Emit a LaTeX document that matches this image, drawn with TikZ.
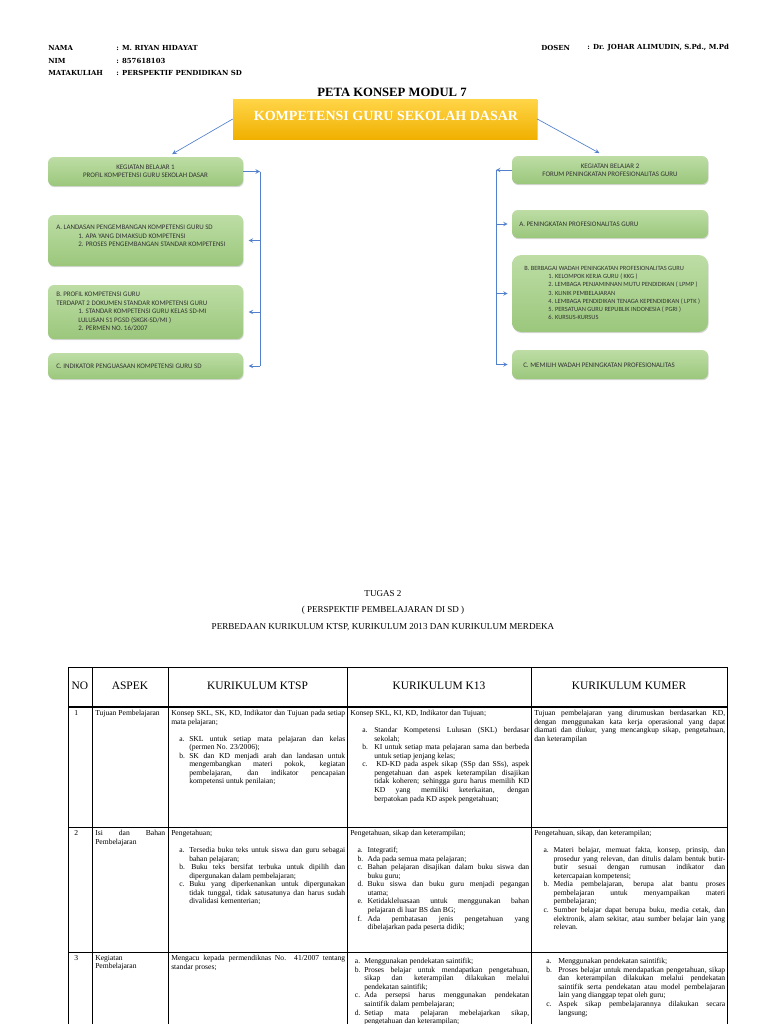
\documentclass[tikz,border=0pt]{standalone}
\usepackage{fontspec}
\setmainfont{Liberation Serif}
\newfontfamily\kotakfont{Carlito}
\newfontfamily\identfont{DejaVu Serif}
\usetikzlibrary{positioning,shadows}
\definecolor{hijauatas}{RGB}{189,221,165}
\definecolor{hijaubawah}{RGB}{155,199,124}
\definecolor{oranyeatas}{RGB}{255,213,72}
\definecolor{oranyebawah}{RGB}{240,176,0}
\definecolor{garisbiru}{RGB}{82,128,205}
\definecolor{teksabu}{RGB}{50,50,50}
\newlength\lslabel
\newlength\lstext
\newcommand\lsset[2]{\setlength\lslabel{#1}\setlength\lstext{#2}}
\newcommand\litem[2]{\par\hangindent=\lstext\hangafter=1\noindent\makebox[\lstext][l]{\hspace*{\lslabel}#1}#2\par}
\newcommand\lsgap{\par\vspace{6.5pt}}
\begin{document}
\begin{tikzpicture}[x=0.75pt,y=-0.75pt,line join=round,>=stealth]
	\tikzset{
		ident/.style={font=\identfont\bfseries\fontsize{5.2}{6}\selectfont,anchor=west,inner sep=0pt},
		kotak/.style={rounded corners=4.5pt,top color=hijauatas,bottom color=hijaubawah,minimum width=146.25pt,drop shadow={shadow xshift=0.5pt,shadow yshift=-0.9pt,opacity=0.3}},
		isi/.style={font=\kotakfont\fontsize{5.2}{6.4}\selectfont,text=teksabu,inner sep=0pt,anchor=north west,align=left},
		konektor/.style={draw=garisbiru,line width=0.5pt},
		garis/.style={line width=0.6pt},
		sel/.style={font={\fontsize{5.7}{6.4}\selectfont\parindent=0pt\tolerance=10000\hbadness=10000\hyphenpenalty=10000},inner sep=0pt,anchor=north west,align=justify},
		kepala/.style={font=\fontsize{8.6}{10}\selectfont,inner sep=0pt},
		judul/.style={font=\fontsize{6.8}{8}\selectfont,inner sep=0pt}
	}
	\useasboundingbox (0,0) rectangle (768,1024);
	\fill[white] (0,0) rectangle (768,1024);
	% identitas
	\node[ident] (nama) at (48,48) {NAMA};
	\node[ident] (namaisi) at (116,48) {: M. RIYAN HIDAYAT};
	\node[ident] (nim) at (48,61) {NIM};
	\node[ident] (nimisi) at (116,61) {: 857618103};
	\node[ident] (mk) at (48,73) {MATAKULIAH};
	\node[ident] (mkisi) at (116,73) {: PERSPEKTIF PENDIDIKAN SD};
	\node[ident] (dosen) at (541,48) {DOSEN};
	\node[ident] (dosenisi) at (587,48) {: Dr. JOHAR ALIMUDIN, S.Pd., M.Pd};
	% peta konsep
	\node[font=\bfseries\fontsize{9.5}{11}\selectfont,inner sep=0pt] (peta) at (392,92) {PETA KONSEP MODUL 7};
	\node[top color=oranyeatas,bottom color=oranyebawah,minimum width=228pt,minimum height=30pt,drop shadow={shadow xshift=0.6pt,shadow yshift=-1pt,opacity=0.35}] (kompetensi) at (385,119) {};
	\node[font=\bfseries\fontsize{10.5}{12}\selectfont,text=white,inner sep=0pt] (kompetensiteks) at (386,116) {KOMPETENSI GURU SEKOLAH DASAR};
	% kegiatan belajar 1
	\node[kotak,minimum height=21.75pt,font=\kotakfont\fontsize{5.2}{6.2}\selectfont,text=teksabu,align=center] (kb1) at (145.5,171.5) {KEGIATAN BELAJAR 1\\PROFIL KOMPETENSI GURU SEKOLAH DASAR};
	\node[kotak,minimum height=38.25pt] (kbA) at (145.5,240.5) {};
	\node[kotak,minimum height=40.5pt] (kbB) at (145.5,312) {};
	\node[kotak,minimum height=19.5pt] (kbC) at (145.5,366) {};
	\node[isi] (tkbA) at (56,224.8) {A. LANDASAN PENGEMBANGAN KOMPETENSI GURU SD\\
		\hspace*{16.5pt}1. APA YANG DIMAKSUD KOMPETENSI\\
		\hspace*{16.5pt}2. PROSES PENGEMBANGAN STANDAR KOMPETENSI};
	\node[isi] (tkbB) at (56,291.8) {B. PROFIL KOMPETENSI GURU\\
		TERDAPAT 2 DOKUMEN STANDAR KOMPETENSI GURU\\
		\hspace*{16.5pt}1. STANDAR KOMPETENSI GURU KELAS SD-MI\\
		\hspace*{16.5pt}LULUSAN S1 PGSD (SKGK-SD/MI )\\
		\hspace*{16.5pt}2. PERMEN NO. 16/2007};
	\node[isi] (tkbC) at (56,363.8) {C. INDIKATOR PENGUASAAN KOMPETENSI GURU SD};
	% kegiatan belajar 2
	\node[kotak,minimum width=147pt,minimum height=21pt,font=\kotakfont\fontsize{5.2}{6.2}\selectfont,text=teksabu,align=center] (kr1) at (610,170) {KEGIATAN BELAJAR 2\\FORUM PENINGKATAN PROFESIONALITAS GURU};
	\node[kotak,minimum width=147pt,minimum height=21pt] (krA) at (610,224) {};
	\node[kotak,minimum width=147pt,minimum height=57.75pt,rounded corners=7pt] (krB) at (610,293.5) {};
	\node[kotak,minimum width=147pt,minimum height=21.75pt] (krC) at (610,364.5) {};
	\node[isi] (tkrA) at (519,221.8) {A. PENINGKATAN PROFESIONALITAS GURU};
	\node[isi,font=\kotakfont\fontsize{4.8}{6.15}\selectfont] (tkrB) at (524,266) {B. BERBAGAI WADAH PENINGKATAN PROFESIONALITAS GURU\\
		\hspace*{18pt}1. KELOMPOK KERJA GURU ( KKG )\\
		\hspace*{18pt}2. LEMBAGA PENJAMINNAN MUTU PENDIDIKAN ( LPMP )\\
		\hspace*{18pt}3. KLINIK PEMBELAJARAN\\
		\hspace*{18pt}4. LEMBAGA PENDIDIKAN TENAGA KEPENDIDIKAN ( LPTK )\\
		\hspace*{18pt}5. PERSATUAN GURU REPUBLIK INDONESIA ( PGRI )\\
		\hspace*{18pt}6. KURSUS-KURSUS};
	\node[isi] (tkrC) at (523,362.8) {C. MEMILIH WADAH PENINGKATAN PROFESIONALITAS};
	% konektor
	\draw[konektor,->] (kompetensi.west) -- ([xshift=20pt,yshift=2pt]kb1.north);
	\draw[konektor,->] (kompetensi.east) -- ([xshift=-8pt,yshift=2pt]kr1.north);
	\coordinate (lbus) at (260,171.5);
	\draw[konektor,->] (kb1.east) -- (lbus);
	\draw[konektor] (lbus) -- (lbus |- kbC.east);
	\foreach \k in {kbA,kbB,kbC}
		\draw[konektor,->] (lbus |- \k.east) -- ([xshift=4pt]\k.east);
	\coordinate (rbus) at (496,170);
	\draw[konektor,->] (kr1.west) -- (rbus);
	\draw[konektor] (rbus) -- (rbus |- krC.west);
	\foreach \k in {krA,krB,krC}
		\draw[konektor,->] (rbus |- \k.west) -- ([xshift=-3pt]\k.west);
	% tugas 2
	\node[judul] (tugas) at (383,594) {TUGAS 2};
	\node[judul] (perspektif) at (383,610) {( PERSPEKTIF PEMBELAJARAN DI SD )};
	\node[judul] (perbedaan) at (383,627) {PERBEDAAN KURIKULUM KTSP, KURIKULUM 2013 DAN KURIKULUM MERDEKA};
	\begin{scope}
		\clip (0,0) rectangle (768,1024);
		\foreach \x in {68,92,168,347,531,727}
			\draw[garis] (\x,667) -- (\x,1030);
		\draw[garis] (68,667) -- (727,667);
		\draw[garis,line width=1pt] (68,707) -- (727,707);
		\foreach \y in {827,952}
			\draw[garis] (68,\y) -- (727,\y);
		% kepala tabel
		\node[kepala] (hno) at (80,686) {NO};
		\node[kepala] (haspek) at (130,686) {ASPEK};
		\node[kepala] (hktsp) at (257.5,686) {KURIKULUM KTSP};
		\node[kepala] (hktiga) at (439,686) {KURIKULUM K13};
		\node[kepala] (hkumer) at (629,686) {KURIKULUM KUMER};
		% baris 1
		\node[sel] (no1) at (74,710) {1};
		\node[sel,text width=52.5pt] (as1) at (95,710) {Tujuan Pembelajaran};
		\node[sel,text width=130.5pt] (ktsp1) at (171,710) {Konsep SKL, SK, KD, Indikator dan Tujuan pada setiap \linebreak mata pelajaran;\lsgap
			\lsset{6pt}{13.5pt}%
			\litem{a.}{SKL untuk setiap mata pelajaran dan kelas \linebreak (permen No. 23/2006);}
			\litem{b.}{SK dan KD menjadi arah dan landasan untuk \linebreak mengembangkan materi pokok, kegiatan \linebreak pembelajaran, dan indikator pencapaian \linebreak kompetensi untuk penilaian;}};
		\node[sel,text width=134.25pt] (ktiga1) at (350,710) {Konsep SKL, KI, KD, Indikator dan Tujuan;\lsgap
			\lsset{9pt}{18pt}%
			\litem{a.}{Standar Kompetensi Lulusan (SKL) berdasar \linebreak sekolah;}
			\litem{b.}{KI untuk setiap mata pelajaran sama dan berbeda \linebreak untuk setiap jenjang kelas;}
			\litem{c.}{\hspace*{1.5pt}KD-KD pada aspek sikap (SSp dan SSs), aspek \linebreak pengetahuan dan aspek keterampilan disajikan \linebreak tidak koheren; sehingga guru harus memilih KD \linebreak KD yang memiliki keterkaitan, dengan \linebreak berpatokan pada KD aspek pengetahuan;}};
		\node[sel,text width=143.25pt] (kumer1) at (534,710) {Tujuan pembelajaran yang dirumuskan berdasarkan KD, \linebreak dengan menggunakan kata kerja operasional yang dapat \linebreak diamati dan diukur, yang mencangkup sikap, pengetahuan, \linebreak dan keterampilan};
		% baris 2
		\node[sel] (no2) at (74,830) {2};
		\node[sel,text width=52.5pt] (as2) at (95,830) {Isi dan Bahan \linebreak Pembelajaran};
		\node[sel,text width=130.5pt] (ktsp2) at (171,830) {Pengetahuan;\lsgap
			\lsset{6pt}{13.5pt}%
			\litem{a.}{Tersedia buku teks untuk siswa dan guru sebagai \linebreak bahan pelajaran;}
			\litem{b.}{\hspace*{1.5pt}Buku teks bersifat terbuka untuk dipilih dan \linebreak dipergunakan dalam pembelajaran;}
			\litem{c.}{Buku yang diperkenankan untuk dipergunakan \linebreak tidak tunggal, tidak satusatunya dan harus sudah \linebreak divalidasi kementerian;}};
		\node[sel,text width=134.25pt] (ktiga2) at (350,830) {Pengetahuan, sikap dan keterampilan;\lsgap
			\lsset{5.5pt}{13pt}%
			\litem{a.}{Integratif;}
			\litem{b.}{Ada pada semua mata pelajaran;}
			\litem{c.}{Bahan pelajaran disajikan dalam buku siswa dan \linebreak buku guru;}
			\litem{d.}{Buku siswa dan buku guru menjadi pegangan \linebreak utama;}
			\litem{e.}{Ketidakleluasaan untuk menggunakan bahan \linebreak pelajaran di luar BS dan BG;}
			\litem{f.}{Ada pembatasan jenis pengetahuan yang \linebreak dibelajarkan pada peserta didik;}};
		\node[sel,text width=143.25pt] (kumer2) at (534,830) {Pengetahuan, sikap, dan keterampilan;\lsgap
			\lsset{7pt}{14.5pt}%
			\litem{a.}{Materi belajar, memuat fakta, konsep, prinsip, dan \linebreak prosedur yang relevan, dan ditulis dalam bentuk butir-\linebreak butir sesuai dengan rumusan indikator dan \linebreak ketercapaian kompetensi;}
			\litem{b.}{Media pembelajaran, berupa alat bantu proses \linebreak pembelajaran untuk menyampaikan materi \linebreak pembelajaran;}
			\litem{c.}{Sumber belajar dapat berupa buku, media cetak, dan \linebreak elektronik, alam sekitar, atau sumber belajar lain yang \linebreak relevan.}};
		% baris 3
		\node[sel] (no3) at (74,955) {3};
		\node[sel,text width=52.5pt] (as3) at (95,955) {Kegiatan\\Pembelajaran};
		\node[sel,text width=130.5pt] (ktsp3) at (171,955) {Mengacu kepada permendiknas No. 41/2007 tentang \linebreak standar proses;};
		\node[sel,text width=134.25pt] (ktiga3) at (350,955) {\lsset{3.5pt}{10.5pt}%
			\litem{a.}{Menggunakan pendekatan saintifik;}
			\litem{b.}{Proses belajar untuk mendapatkan pengetahuan, \linebreak sikap dan keterampilan dilakukan melalui \linebreak pendekatan saintifik;}
			\litem{c.}{Ada persepsi harus menggunakan pendekatan \linebreak saintifik dalam pembelajaran;}
			\litem{d.}{Setiap mata pelajaran mebelajarkan sikap, \linebreak pengetahuan dan keterampilan;}};
		\node[sel,text width=143.25pt] (kumer3) at (534,955) {\lsset{9pt}{18pt}%
			\litem{a.}{Menggunakan pendekatan saintifik;}
			\litem{b.}{Proses belajar untuk mendapatkan pengetahuan, sikap \linebreak dan keterampilan dilakukan melalui pendekatan \linebreak saintifik serta pendekatan atau model pembelajaran \linebreak lain yang dianggap tepat oleh guru;}
			\litem{c.}{Aspek sikap pembelajarannya dilakukan secara \linebreak langsung;}};
	\end{scope}
\end{tikzpicture}
\end{document}
